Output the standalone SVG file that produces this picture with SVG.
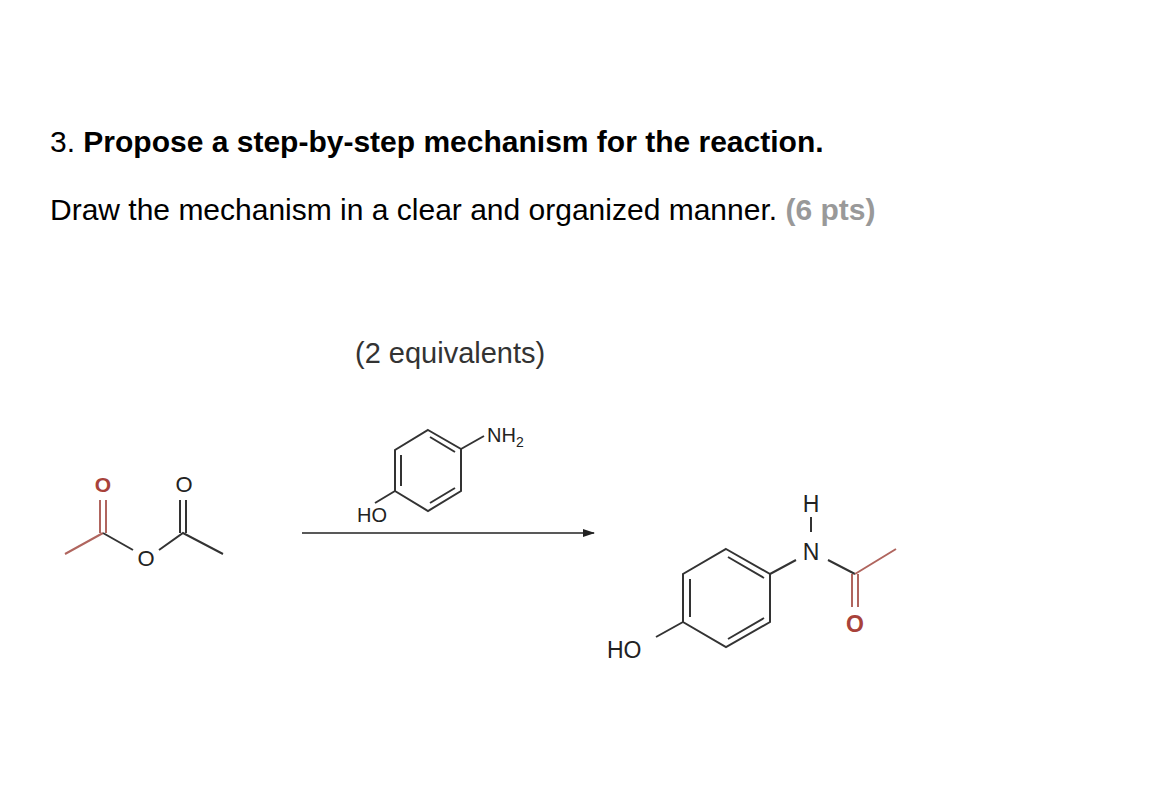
<svg xmlns="http://www.w3.org/2000/svg" width="1170" height="785" viewBox="0 0 1170 785">
<style>
.t{font-family:"Liberation Sans",Arial,sans-serif;fill:#000;font-size:30px}
.b{stroke:#333;stroke-width:2;fill:none}
.r{stroke:#b0655e;stroke-width:2;fill:none}
.l{font-family:"Liberation Sans",Arial,sans-serif;font-size:20px;fill:#222}
.ro{font-family:"Liberation Sans",Arial,sans-serif;font-size:21px;font-weight:bold;fill:#a8423a}
</style>
<defs><marker id="ah" markerWidth="12" markerHeight="8" refX="11" refY="4" orient="auto" markerUnits="userSpaceOnUse"><path d="M0,0 L12,4 L0,8 Z" fill="#222"/></marker></defs>
<rect width="1170" height="785" fill="#fff"/>
<g id="title">
<text class="t" x="50" y="152">3. <tspan font-weight="bold">Propose a step-by-step mechanism for the reaction.</tspan></text>
<text class="t" x="50" y="220">Draw the mechanism in a clear and organized manner.   <tspan font-weight="bold" fill="#999">(6 pts)</tspan></text>
</g>
<g id="anhydride">
<path class="r" d="M65,554 L103,533 M100,533 L100,500 M106,533 L106,500"/>
<path class="b" d="M103,533 L133,550 M159,550 L183,533 L223,554 M180,533 L180,500 M186,533 L186,500"/>
<text class="ro" x="103" y="492" text-anchor="middle">O</text>
<text class="l" x="146" y="566" text-anchor="middle" style="font-size:22px">O</text>
<text class="l" x="184" y="492" text-anchor="middle" style="font-size:22px">O</text>
</g>
<g id="reagent">
<text class="l" x="355" y="363" style="font-size:29px;fill:#333">(2 equivalents)</text>
<path class="b" d="M428,430 L461,449 L461,491 L428,511 L395,491 L395,450 Z"/>
<path class="b" d="M401,455 L401,486 M430,437 L455,452 M455,488 L430,503"/>
<path class="b" d="M461,449 L484,436 M395,491 L375,503"/>
<text class="l" x="487" y="442">NH<tspan style="font-size:14px" dy="5">2</tspan></text>
<text class="l" x="357" y="522">HO</text>
</g>
<g id="connectors">
<line x1="302" y1="533" x2="594" y2="533" stroke="#222" stroke-width="1.5" marker-end="url(#ah)"/>
</g>
<g id="product">
<path class="b" d="M726,549 L770,574 L770,622 L726,647 L683,622 L683,574 Z"/>
<path class="b" d="M690,579 L690,617 M728,557 L764,578 M764,618 L728,639"/>
<path class="b" d="M770,574 L796,560 M683,622 L656,637 M811,517 L811,532 M828,560 L855,574"/>
<path class="r" d="M855,574 L896,549 M852,574 L852,607 M858,574 L858,607"/>
<text class="l" x="811" y="512" text-anchor="middle" style="font-size:23px">H</text>
<text class="l" x="811" y="560" text-anchor="middle" style="font-size:23px">N</text>
<text class="ro" x="855" y="632" text-anchor="middle" style="font-size:23px">O</text>
<text class="l" x="607" y="658" style="font-size:23px">HO</text>
</g>
</svg>
